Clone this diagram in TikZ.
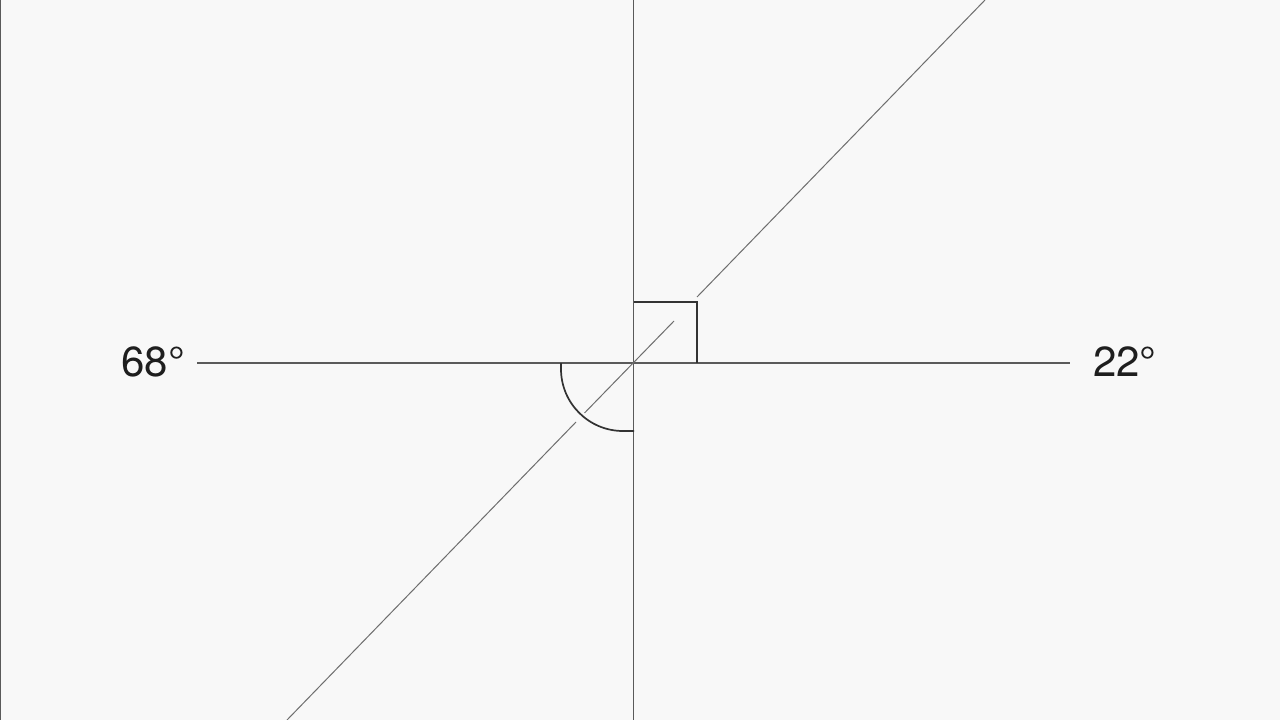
\documentclass[tikz,border=0pt]{standalone}
\usepackage{fontspec}
\setmainfont{TeX Gyre Heros}
\definecolor{bgc}{HTML}{F8F8F8}
\definecolor{axc}{HTML}{5A5A5A}
\definecolor{dgc}{HTML}{6E6E6E}
\definecolor{dkc}{HTML}{333333}
\definecolor{txc}{HTML}{1E1E1E}
\begin{document}
\begin{tikzpicture}[x=1pt,y=-1pt,
  axisline/.style={draw=axc,line width=1.1pt},
  diagline/.style={draw=dgc,line width=1pt},
  markline/.style={draw=dkc,line width=1.7pt},
  edgeline/.style={draw=axc,line width=1.5pt},
  lab/.style={inner sep=0pt,text=txc,font=\fontsize{42}{50}\selectfont}]
\fill[bgc] (0,0) rectangle (1280,720);
\useasboundingbox (0,0) rectangle (1280,720);
% left edge
\coordinate (et) at (0.6,0);
\coordinate (eb) at (0.6,720);
\draw[edgeline] (et) -- (eb);
% axes
\coordinate (O) at (633.5,363);
\coordinate (vt) at (633.5,0);
\coordinate (vb) at (633.5,720);
\coordinate (hl) at (197,363);
\coordinate (hr) at (1070,363);
\draw[axisline] (vt) -- (vb);
\draw[axisline] (hl) -- (hr);
% diagonal (with gaps)
\coordinate (d1) at (287,720);
\coordinate (d2) at (576,422);
\coordinate (d3) at (584.5,413);
\coordinate (d4) at (674,321);
\coordinate (d5) at (697,297);
\coordinate (d6) at (985,0);
\draw[diagline] (d1) -- (d2);
\draw[diagline] (d3) -- (d4);
\draw[diagline] (d5) -- (d6);
% right-angle mark
\coordinate (s1) at (633.5,302);
\coordinate (s2) at (697,302);
\coordinate (s3) at (697,363);
\draw[markline] (s1) -- (s2) -- (s3);
% arc mark
\coordinate (a1) at (561,363);
\coordinate (a2) at (634,431);
\draw[markline] (a1) -- (561,369) arc[start angle=180,end angle=90,radius=62] -- (a2);
% labels
\node[lab,anchor=base east] (l68) at (185,376) {68°};
\node[lab,anchor=base west] (l22) at (1093,376) {22°};
\end{tikzpicture}
\end{document}
